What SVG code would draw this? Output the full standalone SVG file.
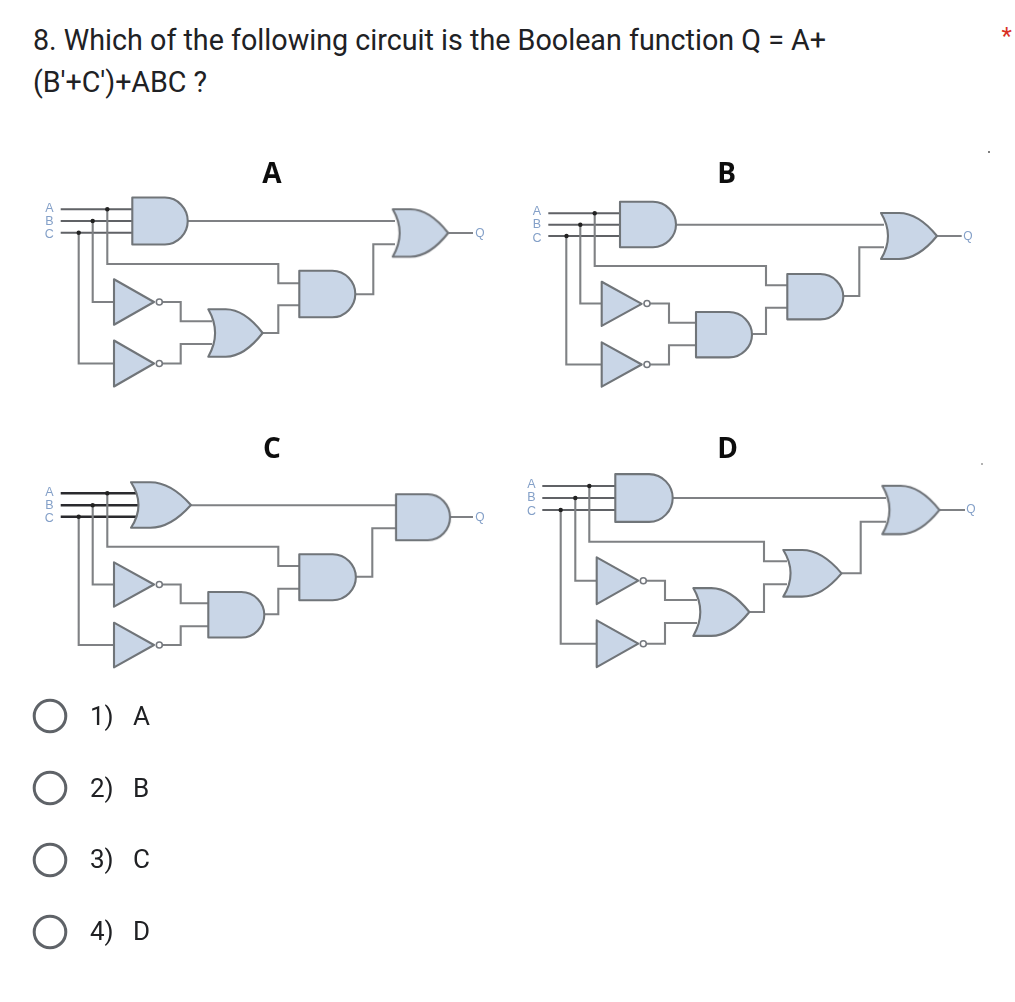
<svg xmlns="http://www.w3.org/2000/svg" width="1015" height="1002" viewBox="0 0 1015 1002">
<style>
text{font-family:Roboto,"Liberation Sans",sans-serif;fill:#202124}
.t{font-size:28.7px}
.o{font-size:26px}
.h{font-family:"Open Sans","Liberation Sans",sans-serif;font-size:28px;font-weight:700;fill:#111;text-anchor:middle}
.p{font-family:"Liberation Sans",sans-serif;font-size:12.5px;fill:#84a0c8;text-anchor:middle}
.q{font-size:12px}
.g{fill:#c9d6e7;stroke:#707479;stroke-width:2.1;vector-effect:non-scaling-stroke;stroke-linejoin:round}
.b{fill:#fff;stroke:#74787e;stroke-width:1.6}
.w{fill:none;stroke:#7f8184;stroke-width:2.1}
.i{fill:none;stroke:#606266;stroke-width:1.9}
.k{fill:none;stroke:#2c2c2e;stroke-width:2.6}
.d{fill:#222}
.r{fill:none;stroke:#5f6368;stroke-width:3}
</style>
<defs>
<path id="and" class="g" d="M0,-23H33C46,-23 56,-12 56,0C56,12 46,23 33,23H0Z"/>
<path id="or" class="g" d="M0,-23H18C34,-23 47,-11 56,0C47,11 34,23 18,23H0Q14,0 0,-23Z"/>
<path id="inv" class="g" d="M0,-23L40,0L0,23Z"/>
<filter id="soft" x="-2%" y="-2%" width="104%" height="104%"><feGaussianBlur stdDeviation="0.4"/></filter>
</defs>
<rect width="1015" height="1002" fill="#fff"/>
<g id="question">
<text class="t" x="33" y="50" textLength="793" lengthAdjust="spacing">8. Which of the following circuit is the Boolean function Q = A+</text>
<text class="t" x="33" y="92" textLength="174" lengthAdjust="spacing">(B'+C')+ABC ?</text>
<text x="1001.5" y="44" style="font-size:24px;fill:#d93025">*</text>
</g>
<g id="connectors" filter="url(#soft)">
<g id="wires-a">
<path class="i" d="M60.7,209.3H132.3M60.7,221H132.3M60.7,232.7H132.3"/>
<path class="w" d="M187.7,221H395M448.3,233H473M355,294.3H373.3V244.3H395M107.3,209.3V264H278.3V283.3H299.3M262.7,333H278.3V305.3H299.3M92.7,221V302H114M78.7,232.7V363.5H114M162.3,302H180.7V321.3H212M162.3,363.5H180.7V344H212"/>
<circle class="d" cx="107.3" cy="209.3" r="2.2"/><circle class="d" cx="92.7" cy="221" r="2.2"/><circle class="d" cx="78.7" cy="232.7" r="2.2"/>
</g>
<g id="wires-b">
<path class="i" d="M548.3,213.3H620M548.3,224.7H620M548.3,236H620"/>
<path class="w" d="M675.7,224.7H884M936.7,236H961.7M843.3,296H859.3V247.3H884M594.7,213.3V266H766V285.3H787.3M752.3,334H766V307.7H787.3M580.3,224.7V303.5H601.7M566.3,236V364.5H601.7M650,303.5H669V322.7H696M650,364.5H669V345.3H696"/>
<circle class="d" cx="594.7" cy="213.3" r="2.2"/><circle class="d" cx="580.3" cy="224.7" r="2.2"/><circle class="d" cx="566.5" cy="236" r="2.2"/>
</g>
<g id="wires-c">
<path class="k" d="M60.7,493.3H138M60.7,505.3H139M60.7,516.7H138"/>
<path class="w" d="M190.7,505.3H396M450,517H473M356,576.7H372.3V528.3H396M107.3,493.3V546.7H278.3V566H299.3M264,614.3H278.3V588.7H299.3M92.7,505.3V584.5H114M78.7,516.7V645H114M162.3,584.5H180.7V603.3H208.3M162.3,645H180.7V626.3H208.3"/>
<circle class="d" cx="107.3" cy="493.3" r="2.2"/><circle class="d" cx="92.7" cy="505.3" r="2.2"/><circle class="d" cx="78.7" cy="516.7" r="2.2"/>
</g>
<g id="wires-d">
<path class="i" d="M542.3,486H615.3M542.3,498H615.3M542.3,510H615.3"/>
<path class="w" d="M672.7,498H886M939.3,510H965M841.7,573.3H860.7V521.7H886M589.3,486V541.7H764V561.3H787M749.3,612H764V584.3H787M575.3,498V580.7H596.7M560.7,510V643.7H596.7M646.5,580.7H665V600H697M646.5,643.7H665V623H697"/>
<circle class="d" cx="589.3" cy="486" r="2.2"/><circle class="d" cx="575.3" cy="498" r="2.2"/><circle class="d" cx="560.7" cy="510" r="2.2"/>
</g>
</g>
<g id="circuit-a" filter="url(#soft)">
<g id="a-and1"><use href="#and" transform="translate(132.3,221) scale(.99,1.02)"/></g>
<g id="a-or-out"><use href="#or" transform="translate(392.7,233) scale(.99,1.03)"/></g>
<g id="a-and2"><use href="#and" transform="translate(299.3,294) scale(1,1.01)"/></g>
<g id="a-or2"><use href="#or" transform="translate(208.3,333) scale(.97,1.03)"/></g>
<g id="a-inv1"><use href="#inv" transform="translate(114,302) scale(1,.99)"/><circle class="b" cx="159.3" cy="302" r="3"/></g>
<g id="a-inv2"><use href="#inv" transform="translate(114,363.5)"/><circle class="b" cx="159.3" cy="363.5" r="3"/></g>
<g id="a-inputs"><text class="p" x="49.3" y="212">A</text><text class="p" x="49.3" y="225">B</text><text class="p" x="49.3" y="238.3">C</text></g>
<g id="a-q"><text class="p q" x="480" y="237">Q</text></g>
</g>
<g id="circuit-b" filter="url(#soft)">
<g id="b-and1"><use href="#and" transform="translate(620,224.5) scale(1,.99)"/></g>
<g id="b-or-out"><use href="#or" transform="translate(881,236)"/></g>
<g id="b-and2"><use href="#and" transform="translate(787.3,296.7) scale(1,.985)"/></g>
<g id="b-and3"><use href="#and" transform="translate(696,334.7) scale(1,.985)"/></g>
<g id="b-inv1"><use href="#inv" transform="translate(601.7,303.8) scale(1,.96)"/><circle class="b" cx="647" cy="303.5" r="3"/></g>
<g id="b-inv2"><use href="#inv" transform="translate(601.7,364.5) scale(1,.965)"/><circle class="b" cx="647" cy="364.5" r="3"/></g>
<g id="b-inputs"><text class="p" x="537" y="215">A</text><text class="p" x="537" y="228">B</text><text class="p" x="537" y="241.5">C</text></g>
<g id="b-q"><text class="p q" x="968" y="240">Q</text></g>
</g>
<g id="circuit-c" filter="url(#soft)">
<g id="c-or1"><use href="#or" transform="translate(131,505) scale(1.07,.99)"/></g>
<g id="c-and-out"><use href="#and" transform="translate(396,517.2) scale(.965,1)"/></g>
<g id="c-and2"><use href="#and" transform="translate(299.3,577.3) scale(1.01,1)"/></g>
<g id="c-and3"><use href="#and" transform="translate(208.3,614.8) scale(1,.99)"/></g>
<g id="c-inv1"><use href="#inv" transform="translate(114,584.5) scale(1,.965)"/><circle class="b" cx="159.3" cy="584.5" r="3"/></g>
<g id="c-inv2"><use href="#inv" transform="translate(114,645) scale(1,.97)"/><circle class="b" cx="159.3" cy="645" r="3"/></g>
<g id="c-inputs"><text class="p" x="49.3" y="495.5">A</text><text class="p" x="49.3" y="508.5">B</text><text class="p" x="49.3" y="521.7">C</text></g>
<g id="c-q"><text class="p q" x="480" y="521">Q</text></g>
</g>
<g id="circuit-d" filter="url(#soft)">
<g id="d-and1"><use href="#and" transform="translate(615.3,498) scale(1.025,1.04)"/></g>
<g id="d-or-out"><use href="#or" transform="translate(882.3,510) scale(1.02,1.05)"/></g>
<g id="d-or2"><use href="#or" transform="translate(783.3,573.3) scale(1.04,1.015)"/></g>
<g id="d-or3"><use href="#or" transform="translate(693.3,612) scale(1,1.04)"/></g>
<g id="d-inv1"><use href="#inv" transform="translate(596.7,580.7) scale(1.04,1.015)"/><circle class="b" cx="643.3" cy="580.7" r="3"/></g>
<g id="d-inv2"><use href="#inv" transform="translate(596.7,643.7) scale(1.04,1.015)"/><circle class="b" cx="643.3" cy="643.7" r="3"/></g>
<g id="d-inputs"><text class="p" x="531.5" y="488">A</text><text class="p" x="531.5" y="501">B</text><text class="p" x="531.5" y="515">C</text></g>
<g id="d-q"><text class="p q" x="971" y="513">Q</text></g>
</g>
<g id="circuit-labels" filter="url(#soft)">
<text class="h" x="272" y="182.7">A</text>
<text class="h" x="726.7" y="182.7">B</text>
<text class="h" x="272" y="458">C</text>
<text class="h" x="727.7" y="458">D</text>
</g>
<circle cx="989" cy="152" r="1" fill="#555"/>
<circle cx="982" cy="464" r="1" fill="#999"/>
<g id="options">
<g id="option-1"><circle class="r" cx="50" cy="716" r="15.8"/><text class="o" x="90" y="725">1)</text><text class="o" x="133" y="725">A</text></g>
<g id="option-2"><circle class="r" cx="50" cy="788" r="15.8"/><text class="o" x="90" y="796.7">2)</text><text class="o" x="133" y="796.7">B</text></g>
<g id="option-3"><circle class="r" cx="50" cy="860" r="15.8"/><text class="o" x="90" y="868.3">3)</text><text class="o" x="133" y="868.3">C</text></g>
<g id="option-4"><circle class="r" cx="50" cy="932" r="15.8"/><text class="o" x="90" y="940">4)</text><text class="o" x="133" y="940">D</text></g>
</g>
</svg>
